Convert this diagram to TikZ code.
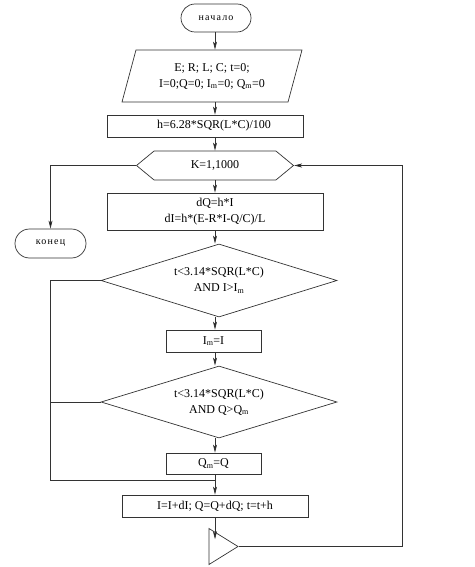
\documentclass[tikz,border=0pt]{standalone}
\usepackage{fontspec}
\setmainfont{Liberation Serif}
\usetikzlibrary{shapes.geometric,shapes.misc,shapes.symbols,arrows.meta}

\tikzset{
    flow/.style={-{Stealth[length=8pt,width=4pt,inset=2pt,fill=black]}},
    term/.style={draw, rounded rectangle, font=\fontsize{10}{11}\selectfont\addfontfeature{LetterSpace=12}, inner sep=1pt},
    proc/.style={draw, rectangle, inner sep=1pt, align=center},
    cond/.style={draw, diamond, aspect=3.2, inner sep=1pt, align=center},
}

\begin{document}
\begin{tikzpicture}[x=1pt, y=1pt, font=\fontsize{12}{16}\selectfont, line width=0.7pt, color=black!80, text=black]
    \useasboundingbox (0,0) rectangle (474,-567);
    % blocks
    \node[term, minimum width=72pt, minimum height=28pt] (start) at (216,-18) {начало};
    \node[draw, trapezium, trapezium stretches body, trapezium left angle=63.4, trapezium right angle=116.6,
          minimum width=180pt, minimum height=52pt, inner sep=1pt, align=center] (input) at (212,-76)
          {E; R; L; C; t=0;\\I=0;Q=0; I\textsubscript{m}=0; Q\textsubscript{m}=0};
    \node[proc, minimum width=196pt, minimum height=22pt] (step) at (205,-126) {\hspace*{18pt}h=6.28*SQR(L*C)/100};
    \node[draw, signal, signal to=west and east, signal pointer angle=79,
          minimum width=157pt, minimum height=29pt, inner sep=1pt] (loop) at (215,-165.5) {K=1,1000};
    \node[proc, minimum width=216pt, minimum height=37pt] (calc) at (215,-211.5) {dQ=h*I\\dI=h*(E-R*I-Q/C)/L};
    \node[term, minimum width=73pt, minimum height=29pt] (stop) at (50.5,-243.5) {конец};
    \node[cond, minimum width=236pt, minimum height=73pt] (testI) at (219,-280.5) {t<3.14*SQR(L*C)\\AND I>I\textsubscript{m}};
    \node[proc, minimum width=95pt, minimum height=22pt] (setI) at (213.5,-341) {I\textsubscript{m}=I};
    \node[cond, minimum width=236pt, minimum height=72pt] (testQ) at (219,-402) {t<3.14*SQR(L*C)\\AND Q>Q\textsubscript{m}};
    \node[proc, minimum width=95pt, minimum height=21pt] (setQ) at (213.5,-463.5) {Q\textsubscript{m}=Q};
    \node[proc, minimum width=186pt, minimum height=22pt] (update) at (215,-506) {I=I+dI; Q=Q+dQ; t=t+h};
    \node[draw, isosceles triangle, isosceles triangle stretches, minimum width=36pt, minimum height=29pt,
          inner sep=0pt] (next) at (219,-546.5) {};
    \coordinate (join) at (50,-480);
    \coordinate (back) at (402,-546.5);
    % connectors
    \draw[flow] (start.south -| loop) -- (input.north -| loop);
    \draw[flow] (input.south -| loop) -- (step.north -| loop);
    \draw[flow] (step.south -| loop) -- (loop.north);
    \draw[flow] (loop.south) -- (calc.north);
    \draw[flow] (loop.west) -| (stop.north);
    \draw[flow] (calc.south) -- (calc.south |- testI.north);
    \draw[flow] (testI.south -| loop) -- (setI.north -| loop);
    \draw[flow] (setI.south -| loop) -- (testQ.north -| loop);
    \draw[flow] (testQ.south -| loop) -- (setQ.north -| loop);
    \draw (testI.west) -| (join) -- (join -| loop);
    \draw (testQ.west) -- (testQ.west -| join);
    \draw[flow] (setQ.south -| loop) -- (update.north -| loop);
    \draw[flow] (update.south) -- ([yshift=-5pt]update.south |- next.north);
    \draw[flow] (next.apex) -- (back) |- (loop.east);
\end{tikzpicture}
\end{document}
